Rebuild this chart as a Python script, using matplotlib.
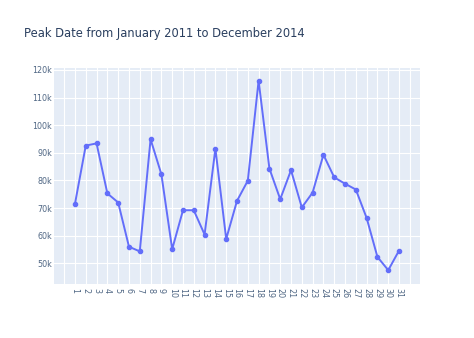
import numpy as np
import matplotlib
matplotlib.use("Agg")
from matplotlib import pyplot as plt

# day of month -> peak value
days = list(range(1, 32))
peaks = [71.5, 92.6, 93.4, 75.3, 72.0, 56.0, 54.3, 94.9, 82.2, 55.1,
         69.2, 69.2, 60.4, 91.5, 58.8, 72.6, 79.9, 116.1, 84.3, 73.2,
         83.7, 70.2, 75.6, 89.3, 81.1, 78.8, 76.7, 66.4, 52.3, 47.5, 54.6]
peaks = [p * 1000 for p in peaks]
ytick_vals = [50000, 60000, 70000, 80000, 90000, 100000, 110000, 120000]
ytick_labels = ["50k", "60k", "70k", "80k", "90k", "100k", "110k", "120k"]

plt.rcParams["font.family"] = ["DejaVu Sans"]
W, H = 474, 338
fig = plt.figure(figsize=(W / 100, H / 100), dpi=100)
ax = fig.add_axes([54 / W, (H - 284) / H, 366 / W, 216.3 / H])
ax.set_facecolor("#E5ECF6")
for s in ax.spines.values():
    s.set_visible(False)

ax.plot(days, peaks, color="#636efa", lw=1.4, marker="o", ms=3.0, zorder=3)

ax.set_xlim(1 - 1.94, 31 + 1.94)
ax.set_ylim(42500, 120800)
ax.set_xticks(range(0, 33))
ax.set_xticklabels([""] + [str(d) for d in days] + [""], rotation=-90,
                   fontsize=5.8, color="#506784")
ax.set_yticks(ytick_vals)
ax.set_yticklabels(ytick_labels, fontsize=5.8, color="#506784")
ax.tick_params(axis="y", length=0, pad=1.5)
ax.tick_params(axis="x", length=0, pad=3)
ax.grid(True, color="white", lw=0.8)
ax.set_axisbelow(True)

fig.text(24 / W, 1 - 34 / H, "Peak Date from January 2011 to December 2014",
         fontsize=8.3, color="#2a3f5f", va="center", ha="left")

fig.savefig("out.png", dpi=100)
